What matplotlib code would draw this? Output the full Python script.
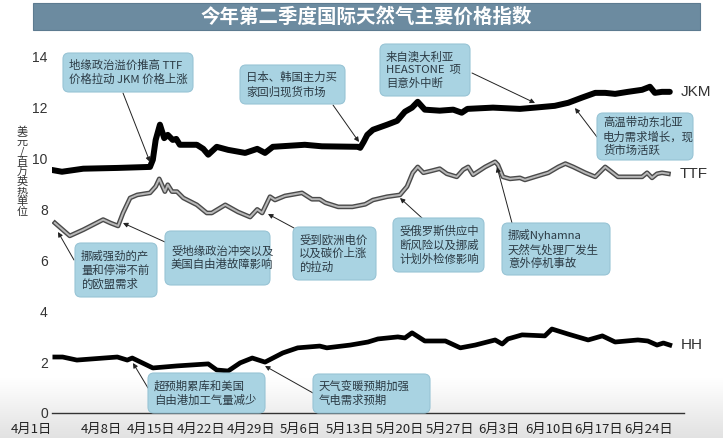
import numpy as np
import matplotlib
matplotlib.use('Agg')
import matplotlib.pyplot as plt
import matplotlib.transforms as mtransforms
from matplotlib.patches import FancyBboxPatch, Rectangle
from matplotlib.colors import LinearSegmentedColormap

plt.rcParams['font.family'] = ['Noto Sans CJK SC', 'DejaVu Sans']

# days since 4月1日, prices in USD/MMBtu
jkm_day = [0, 1.4, 4.4, 9.2, 13.8, 14.2, 14.6, 15.2, 15.8, 16.3, 17.0, 17.5, 18.0, 20.4, 21.3, 22.0,
           23.2, 24.8, 27.2, 28.9, 30.0, 31.1, 35.6, 38.0, 43.1, 43.4, 43.9, 44.4, 45.2, 47.2, 48.6,
           49.7, 50.7, 51.5, 52.5, 54.6, 56.5, 57.7, 58.5, 62.1, 65.9, 68.0, 70.8, 72.7, 74.6, 76.5,
           77.9, 79.3, 81.1, 83.1, 84.2, 84.9, 85.9, 87.0]
jkm_val = [9.55, 9.48, 9.6, 9.63, 9.67, 9.95, 10.73, 11.33, 10.8, 10.93, 10.73, 10.77, 10.54, 10.54, 10.38, 10.15,
           10.46, 10.34, 10.22, 10.38, 10.22, 10.46, 10.54, 10.48, 10.46, 10.42, 10.66, 10.93, 11.13, 11.33, 11.48,
           11.84, 12.0, 12.23, 11.92, 11.88, 11.92, 11.8, 11.95, 12.0, 11.95, 12.0, 12.07, 12.19, 12.39, 12.58,
           12.58, 12.54, 12.62, 12.7, 12.82, 12.58, 12.62, 12.62]

ttf_day = [0.4, 2.5, 4.4, 7.2, 8.2, 9.3, 10.0, 11.0, 12.0, 13.8, 14.6, 15.1, 15.9, 16.3, 16.9, 17.6,
           18.5, 20.4, 21.8, 22.5, 24.4, 26.2, 27.9, 28.9, 29.6, 30.7, 31.4, 32.8, 35.2, 36.6, 37.7,
           38.5, 40.3, 42.3, 44.1, 45.2, 47.2, 49.0, 50.0, 50.8, 51.5, 52.3, 53.5, 54.6, 55.6, 57.0,
           57.9, 58.6, 59.3, 61.0, 62.4, 62.8, 63.5, 64.5, 65.9, 66.6, 68.0, 69.9, 71.3, 72.3, 73.4,
           75.1, 76.5, 77.9, 78.6, 79.7, 83.1, 83.8, 84.5, 85.2, 85.9, 86.8]
ttf_val = [7.47, 6.96, 7.2, 7.6, 7.47, 7.35, 7.86, 8.45, 8.57, 8.65, 8.9, 9.2, 8.7, 8.97, 8.7, 8.7,
           8.45, 8.18, 7.86, 7.86, 8.18, 7.9, 7.7, 8.0, 7.86, 8.5, 8.37, 8.53, 8.65, 8.4, 8.4,
           8.26, 8.1, 8.1, 8.2, 8.37, 8.5, 8.57, 8.9, 9.44, 9.67, 9.44, 9.52, 9.6, 9.4, 9.28,
           9.56, 9.67, 9.36, 9.67, 9.87, 9.75, 9.28, 9.2, 9.24, 9.16, 9.28, 9.44, 9.67, 9.8, 9.67,
           9.44, 9.28, 9.67, 9.52, 9.28, 9.28, 9.44, 9.24, 9.4, 9.44, 9.4]

hh_day = [0.4, 1.5, 3.5, 9.2, 10.6, 11.3, 14.2, 17.6, 22.0, 23.2, 24.8, 26.5, 28.2, 30.0, 32.5, 34.6,
          37.7, 38.7, 42.0, 44.5, 45.9, 48.7, 49.7, 50.7, 52.5, 55.4, 57.5, 59.6, 62.4, 63.4, 64.2,
          66.2, 69.4, 70.4, 72.7, 75.5, 77.5, 79.3, 82.5, 83.9, 85.2, 86.1, 87.0]
hh_val = [2.2, 2.2, 2.08, 2.2, 2.08, 2.16, 1.77, 1.85, 1.93, 1.69, 1.65, 1.97, 2.16, 2.0, 2.36, 2.56,
          2.63, 2.56, 2.67, 2.79, 2.91, 2.99, 2.95, 3.15, 2.83, 2.83, 2.56, 2.67, 2.87, 2.71, 2.91,
          3.07, 3.03, 3.3, 3.1, 2.87, 3.03, 2.79, 2.87, 2.83, 2.67, 2.75, 2.67]

tick_days = [0, 7, 14, 21, 28, 35, 42, 49, 56, 63, 70, 77, 84]
tick_labels = ['4月1日', '4月8日', '4月15日', '4月22日', '4月29日', '5月6日', '5月13日',
               '5月20日', '5月27日', '6月3日', '6月10日', '6月17日', '6月24日']
y_ticks = [0, 2, 4, 6, 8, 10, 12, 14]

title = '今年第二季度国际天然气主要价格指数'
notes = [
    # text, box (x0, y0, x1, y1) in image pixels (top-left origin), arrow start, arrow end
    ('地缘政治溢价推高 TTF\n价格拉动 JKM 价格上涨', (63, 53, 193, 92), (123, 93), (150, 162)),
    ('日本、韩国主力买\n家回归现货市场', (240, 65, 345, 104), (333, 105), (359, 142)),
    ('来自澳大利亚\nHEASTONE  项\n目意外中断', (380, 44, 470, 96), (472, 73), (535, 103)),
    ('高温带动东北亚\n电力需求增长，现\n货市场活跃', (597, 113, 693, 160), (597, 137), (575, 108)),
    ('挪威强劲的产\n量和停滞不前\n的欧盟需求', (75, 243, 157, 297), (74, 260), (58, 232)),
    ('受地缘政治冲突以及\n美国自由港故障影响', (165, 231, 270, 285), (165, 242), (123, 223)),
    ('受到欧洲电价\n以及碳价上涨\n的拉动', (293, 227, 376, 280), (294, 228), (268, 214)),
    ('受俄罗斯供应中\n断风险以及挪威\n计划外检修影响', (393, 218, 484, 272), (422, 218), (400, 198)),
    ('挪威Nyhamna\n天然气处理厂发生\n意外停机事故', (502, 223, 610, 275), (512, 223), (497, 167)),
    ('超预期累库和美国\n自由港加工气量减少', (148, 373, 265, 413), (148, 388), (133, 363)),
    ('天气变暖预期加强\n气电需求预期', (313, 374, 430, 413), (313, 393), (265, 366)),
]

W, H = 723, 438
fig = plt.figure(figsize=(W / 100, H / 100), dpi=100)
fig.patch.set_facecolor('white')

# soft grey band at the bottom
bg = fig.add_axes([0, 0, 1, 60 / H], zorder=-5)
fade = LinearSegmentedColormap.from_list('fade', ['#e2e2e2', '#ffffff'])
grad = np.linspace(0, 1, 100).reshape(-1, 1)
bg.imshow(grad, aspect='auto', cmap=fade, origin='lower', extent=[0, 1, 0, 1])
bg.axis('off')

ax = fig.add_axes([52 / W, (H - 413) / H, 632 / W, (413 - 44) / H])
ax.set_facecolor('none')
ax.set_xlim(0, 89)
ax.set_ylim(0, 14.5)

ax.plot(jkm_day, jkm_val, color='black', lw=4.3, solid_joinstyle='round', solid_capstyle='round')
ax.plot(ttf_day, ttf_val, color='#4a4a4a', lw=3.4, solid_joinstyle='round')
ax.plot(ttf_day, ttf_val, color='#b8b8b8', lw=1.4, solid_joinstyle='round')
ax.plot(hh_day, hh_val, color='black', lw=3.4, solid_joinstyle='round')

for name, day, val in [('JKM', jkm_day, jkm_val), ('TTF', ttf_day, ttf_val), ('HH', hh_day, hh_val)]:
    ax.text(day[-1] + 1.6, val[-1], name, fontsize=11, color='#333', va='center', ha='left',
            family=['Liberation Sans', 'DejaVu Sans'])

for s in ['top', 'right', 'left']:
    ax.spines[s].set_visible(False)
ax.spines['bottom'].set_color('#333')
ax.spines['bottom'].set_linewidth(1.0)
ax.set_yticks(y_ticks)
ax.set_yticklabels([str(v) for v in y_ticks], family=['Liberation Sans', 'DejaVu Sans'])
ax.set_xticks(tick_days)
ax.set_xticklabels(tick_labels)
ax.tick_params(axis='y', length=0, labelsize=10, labelcolor='#333', pad=3)
ax.tick_params(axis='x', length=0, labelsize=9.5, labelcolor='#222', pad=7)
ax.get_xticklabels()[0].set_ha('right')

fig.text(22 / W, 1 - 172 / H, '\n'.join('美元/百万英热单位'), fontsize=8, color='#333',
         ha='center', va='center', linespacing=0.98)

# title banner
fig.patches.append(Rectangle((33 / W, 1 - 30 / H), 667 / W, 27 / H, transform=fig.transFigure,
                             facecolor='#6c8ba0', edgecolor='#5d7b90', lw=0.8))
fig.text(366 / W, 1 - 17 / H, title, fontsize=14, color='white', weight='bold',
         ha='center', va='center')

ident = mtransforms.IdentityTransform()
for text, (x0, y0, x1, y1), start, end in notes:
    box = FancyBboxPatch((x0 + 4, H - y1 + 4), x1 - x0 - 8, y1 - y0 - 8,
                         boxstyle='round,pad=4,rounding_size=6', transform=ident,
                         facecolor='#a9d3e2', edgecolor='#98c4d5', lw=0.8, zorder=3)
    fig.patches.append(box)
    fig.text((x0 + 6) / W, 1 - (y0 + y1) / 2 / H, text, fontsize=8.2, color='#2b3a44',
             ha='left', va='center', linespacing=1.3, zorder=4)
    ax.annotate('', xy=(end[0], H - end[1]), xycoords='figure pixels',
                xytext=(start[0], H - start[1]), textcoords='figure pixels',
                arrowprops=dict(arrowstyle='-|>', lw=0.7, color='#222', mutation_scale=7,
                                shrinkA=0, shrinkB=0))

fig.savefig('out.png', dpi=100)
